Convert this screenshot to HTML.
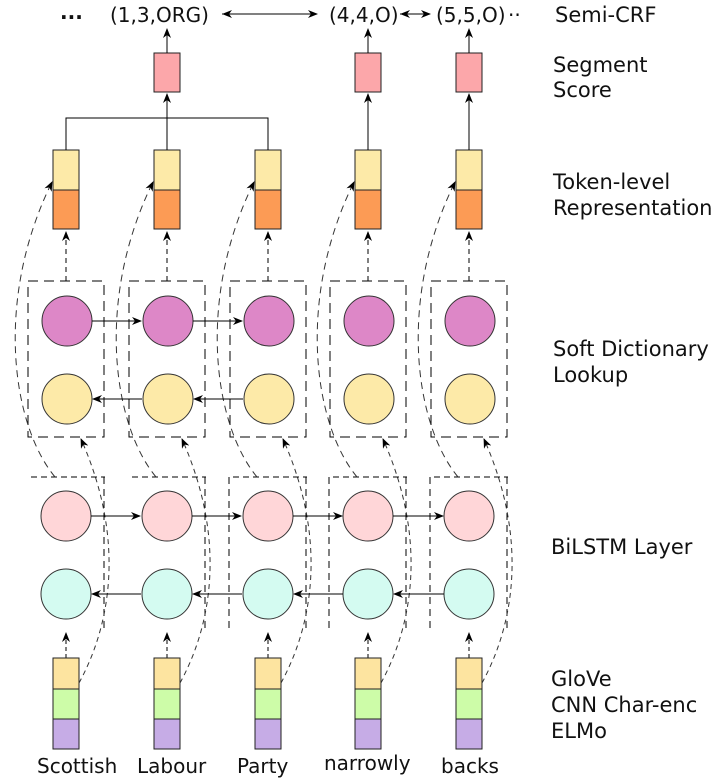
<!DOCTYPE html>
<html><head><meta charset="utf-8"><style>
html,body{margin:0;padding:0;background:#fff;}
svg{display:block;font-family:"DejaVu Sans","Liberation Sans",sans-serif;}
</style></head><body>
<svg width="718" height="779" viewBox="0 0 718 779" xmlns="http://www.w3.org/2000/svg">
<defs>
<marker id="ah" markerWidth="10" markerHeight="8" refX="9" refY="4" orient="auto" markerUnits="userSpaceOnUse">
<path d="M0,0 L10,4 L0,8 L3,4 Z" fill="#000"/>
</marker>
<g id="col">
  <rect x="53" y="150" width="26" height="40" fill="#fdeaa8" stroke="#222" stroke-width="1"/>
  <rect x="53" y="190" width="26" height="39" fill="#fc9b55" stroke="#222" stroke-width="1"/>
  <line x1="66" y1="281" x2="66" y2="232" stroke="#000" stroke-dasharray="5,4" marker-end="url(#ah)"/>
  <rect x="28" y="281" width="76" height="156" fill="none" stroke="#000" stroke-dasharray="10,6"/>
  <circle cx="67" cy="321" r="25" fill="#dd87c7" stroke="#333"/>
  <circle cx="67" cy="399" r="25" fill="#fdeaa8" stroke="#333"/>
  <line x1="31" y1="477" x2="105" y2="477" stroke="#000" stroke-dasharray="6,4"/>
  <line x1="104" y1="477" x2="104" y2="632" stroke="#000" stroke-dasharray="7,5"/>
  <circle cx="66" cy="516" r="25" fill="#ffd6d8" stroke="#333"/>
  <circle cx="66" cy="594" r="25" fill="#d4fbf1" stroke="#333"/>
  <line x1="66" y1="658" x2="66" y2="633" stroke="#000" stroke-dasharray="4,3" marker-end="url(#ah)"/>
  <rect x="53" y="658" width="26" height="31" fill="#fde4a0" stroke="#222"/>
  <rect x="53" y="689" width="26" height="30" fill="#cdfca8" stroke="#222"/>
  <rect x="53" y="719" width="26" height="30" fill="#c6ace6" stroke="#222"/>
  <path d="M79,683 C108,630 128,545 81,439" fill="none" stroke="#333" stroke-dasharray="5,4" marker-end="url(#ah)"/>
  <path d="M55,477 C12,425 -6,300 52,182" fill="none" stroke="#333" stroke-dasharray="7,5" marker-end="url(#ah)"/>
</g>
<g id="seg">
  <rect x="53" y="53" width="26" height="39" fill="#fca7aa" stroke="#222"/>
  <line x1="66" y1="53" x2="66" y2="29" stroke="#000" marker-end="url(#ah)"/>
</g>
</defs>

<use href="#col" x="0"/>
<use href="#col" x="101"/>
<use href="#col" x="202"/>
<use href="#col" x="302"/>
<use href="#col" x="403"/>

<g stroke="#000" stroke-dasharray="7,5">
<line x1="229" y1="477" x2="229" y2="632"/>
<line x1="329" y1="477" x2="329" y2="632"/>
<line x1="430" y1="477" x2="430" y2="632"/>
</g>

<use href="#seg" x="101"/>
<use href="#seg" x="302"/>
<use href="#seg" x="403"/>

<g stroke="#000" fill="none" stroke-width="1">
<polyline points="66,150 66,118 268,118 268,150"/>
<line x1="167" y1="150" x2="167" y2="94" marker-end="url(#ah)"/>
<line x1="368" y1="150" x2="368" y2="94" marker-end="url(#ah)"/>
<line x1="469" y1="150" x2="469" y2="94" marker-end="url(#ah)"/>
<line x1="222" y1="14" x2="317" y2="14" marker-end="url(#ah)"/>
<line x1="400" y1="14" x2="430" y2="14" marker-end="url(#ah)"/>
<line x1="92" y1="321" x2="141" y2="321" marker-end="url(#ah)"/>
<line x1="193" y1="321" x2="242" y2="321" marker-end="url(#ah)"/>
<line x1="142" y1="399" x2="93" y2="399" marker-end="url(#ah)"/>
<line x1="243" y1="399" x2="194" y2="399" marker-end="url(#ah)"/>
<line x1="91" y1="516" x2="140" y2="516" marker-end="url(#ah)"/>
<line x1="192" y1="516" x2="241" y2="516" marker-end="url(#ah)"/>
<line x1="293" y1="516" x2="342" y2="516" marker-end="url(#ah)"/>
<line x1="393" y1="516" x2="443" y2="516" marker-end="url(#ah)"/>
<line x1="141" y1="594" x2="92" y2="594" marker-end="url(#ah)"/>
<line x1="242" y1="594" x2="193" y2="594" marker-end="url(#ah)"/>
<line x1="343" y1="594" x2="294" y2="594" marker-end="url(#ah)"/>
<line x1="444" y1="594" x2="394" y2="594" marker-end="url(#ah)"/>
</g>
<path d="M222,14 L232,10 L229,14 L232,18 Z" fill="#000"/>
<path d="M400,14 L410,10 L407,14 L410,18 Z" fill="#000"/>

<g font-size="20" fill="#111">
<text x="60" y="24" font-weight="bold">···</text>
<text x="110" y="22">(1,3,ORG)</text>
<text x="329" y="22">(4,4,O)</text>
<text x="436" y="22">(5,5,O)</text>
<text x="508" y="22">··</text>
<text x="37" y="773">Scottish</text>
<text x="137" y="773">Labour</text>
<text x="237" y="773">Party</text>
<text x="324" y="770">narrowly</text>
<text x="441" y="773">backs</text>
</g>
<g font-size="21" fill="#111">
<text x="555" y="22">Semi-CRF</text>
<text x="553" y="72">Segment</text>
<text x="553" y="97">Score</text>
<text x="553" y="189">Token-level</text>
<text x="553" y="215">Representation</text>
<text x="553" y="356">Soft Dictionary</text>
<text x="553" y="382">Lookup</text>
<text x="551" y="554">BiLSTM Layer</text>
<text x="551" y="686">GloVe</text>
<text x="551" y="712">CNN Char-enc</text>
<text x="551" y="738">ELMo</text>
</g>
</svg>
</body></html>
